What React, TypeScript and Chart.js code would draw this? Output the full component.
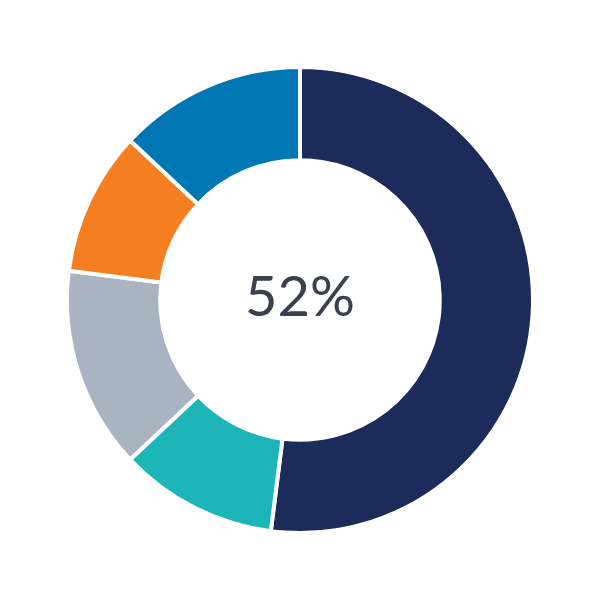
import React, { useEffect, useRef } from 'react';
import { Chart, registerables } from 'chart.js';

Chart.register(...registerables);

const labels = ['Navy', 'Teal', 'Grey', 'Orange', 'Blue'];
const values = [52, 11, 14, 10, 13];
const colors = ['#1c2b5a', '#1cb5b8', '#a9b3c1', '#f47e20', '#0077b5'];
const centerText = '52%';

const centerLabel = {
  id: 'centerLabel',
  afterDraw(chart: Chart) {
    const { ctx, chartArea } = chart;
    const cx = (chartArea.left + chartArea.right) / 2;
    const cy = (chartArea.top + chartArea.bottom) / 2;
    ctx.save();
    ctx.font = '400 56px Lato';
    ctx.fillStyle = '#3a404c';
    ctx.textAlign = 'center';
    ctx.textBaseline = 'middle';
    ctx.fillText(centerText, cx, cy - 2);
    ctx.restore();
  },
};

const App: React.FC = () => {
  const chartRef = useRef<HTMLCanvasElement>(null);

  useEffect(() => {
    if (!chartRef.current) return;
    const chart = new Chart(chartRef.current, {
      type: 'doughnut',
      data: {
        labels,
        datasets: [
          {
            data: values,
            backgroundColor: colors,
            borderColor: '#ffffff',
            borderWidth: 4,
          },
        ],
      },
      options: {
        animation: false,
        responsive: true,
        maintainAspectRatio: false,
        cutout: '60%',
        layout: { padding: 65 },
        plugins: {
          legend: { display: false },
          tooltip: { enabled: false },
        },
      },
      plugins: [centerLabel],
    });
    return () => {
      chart.destroy();
    };
  }, []);

  return (
    <div style={{ position: 'fixed', left: 0, top: 0, width: 600, height: 600, background: '#fff' }}>
      <canvas ref={chartRef} />
    </div>
  );
};

export default App;
